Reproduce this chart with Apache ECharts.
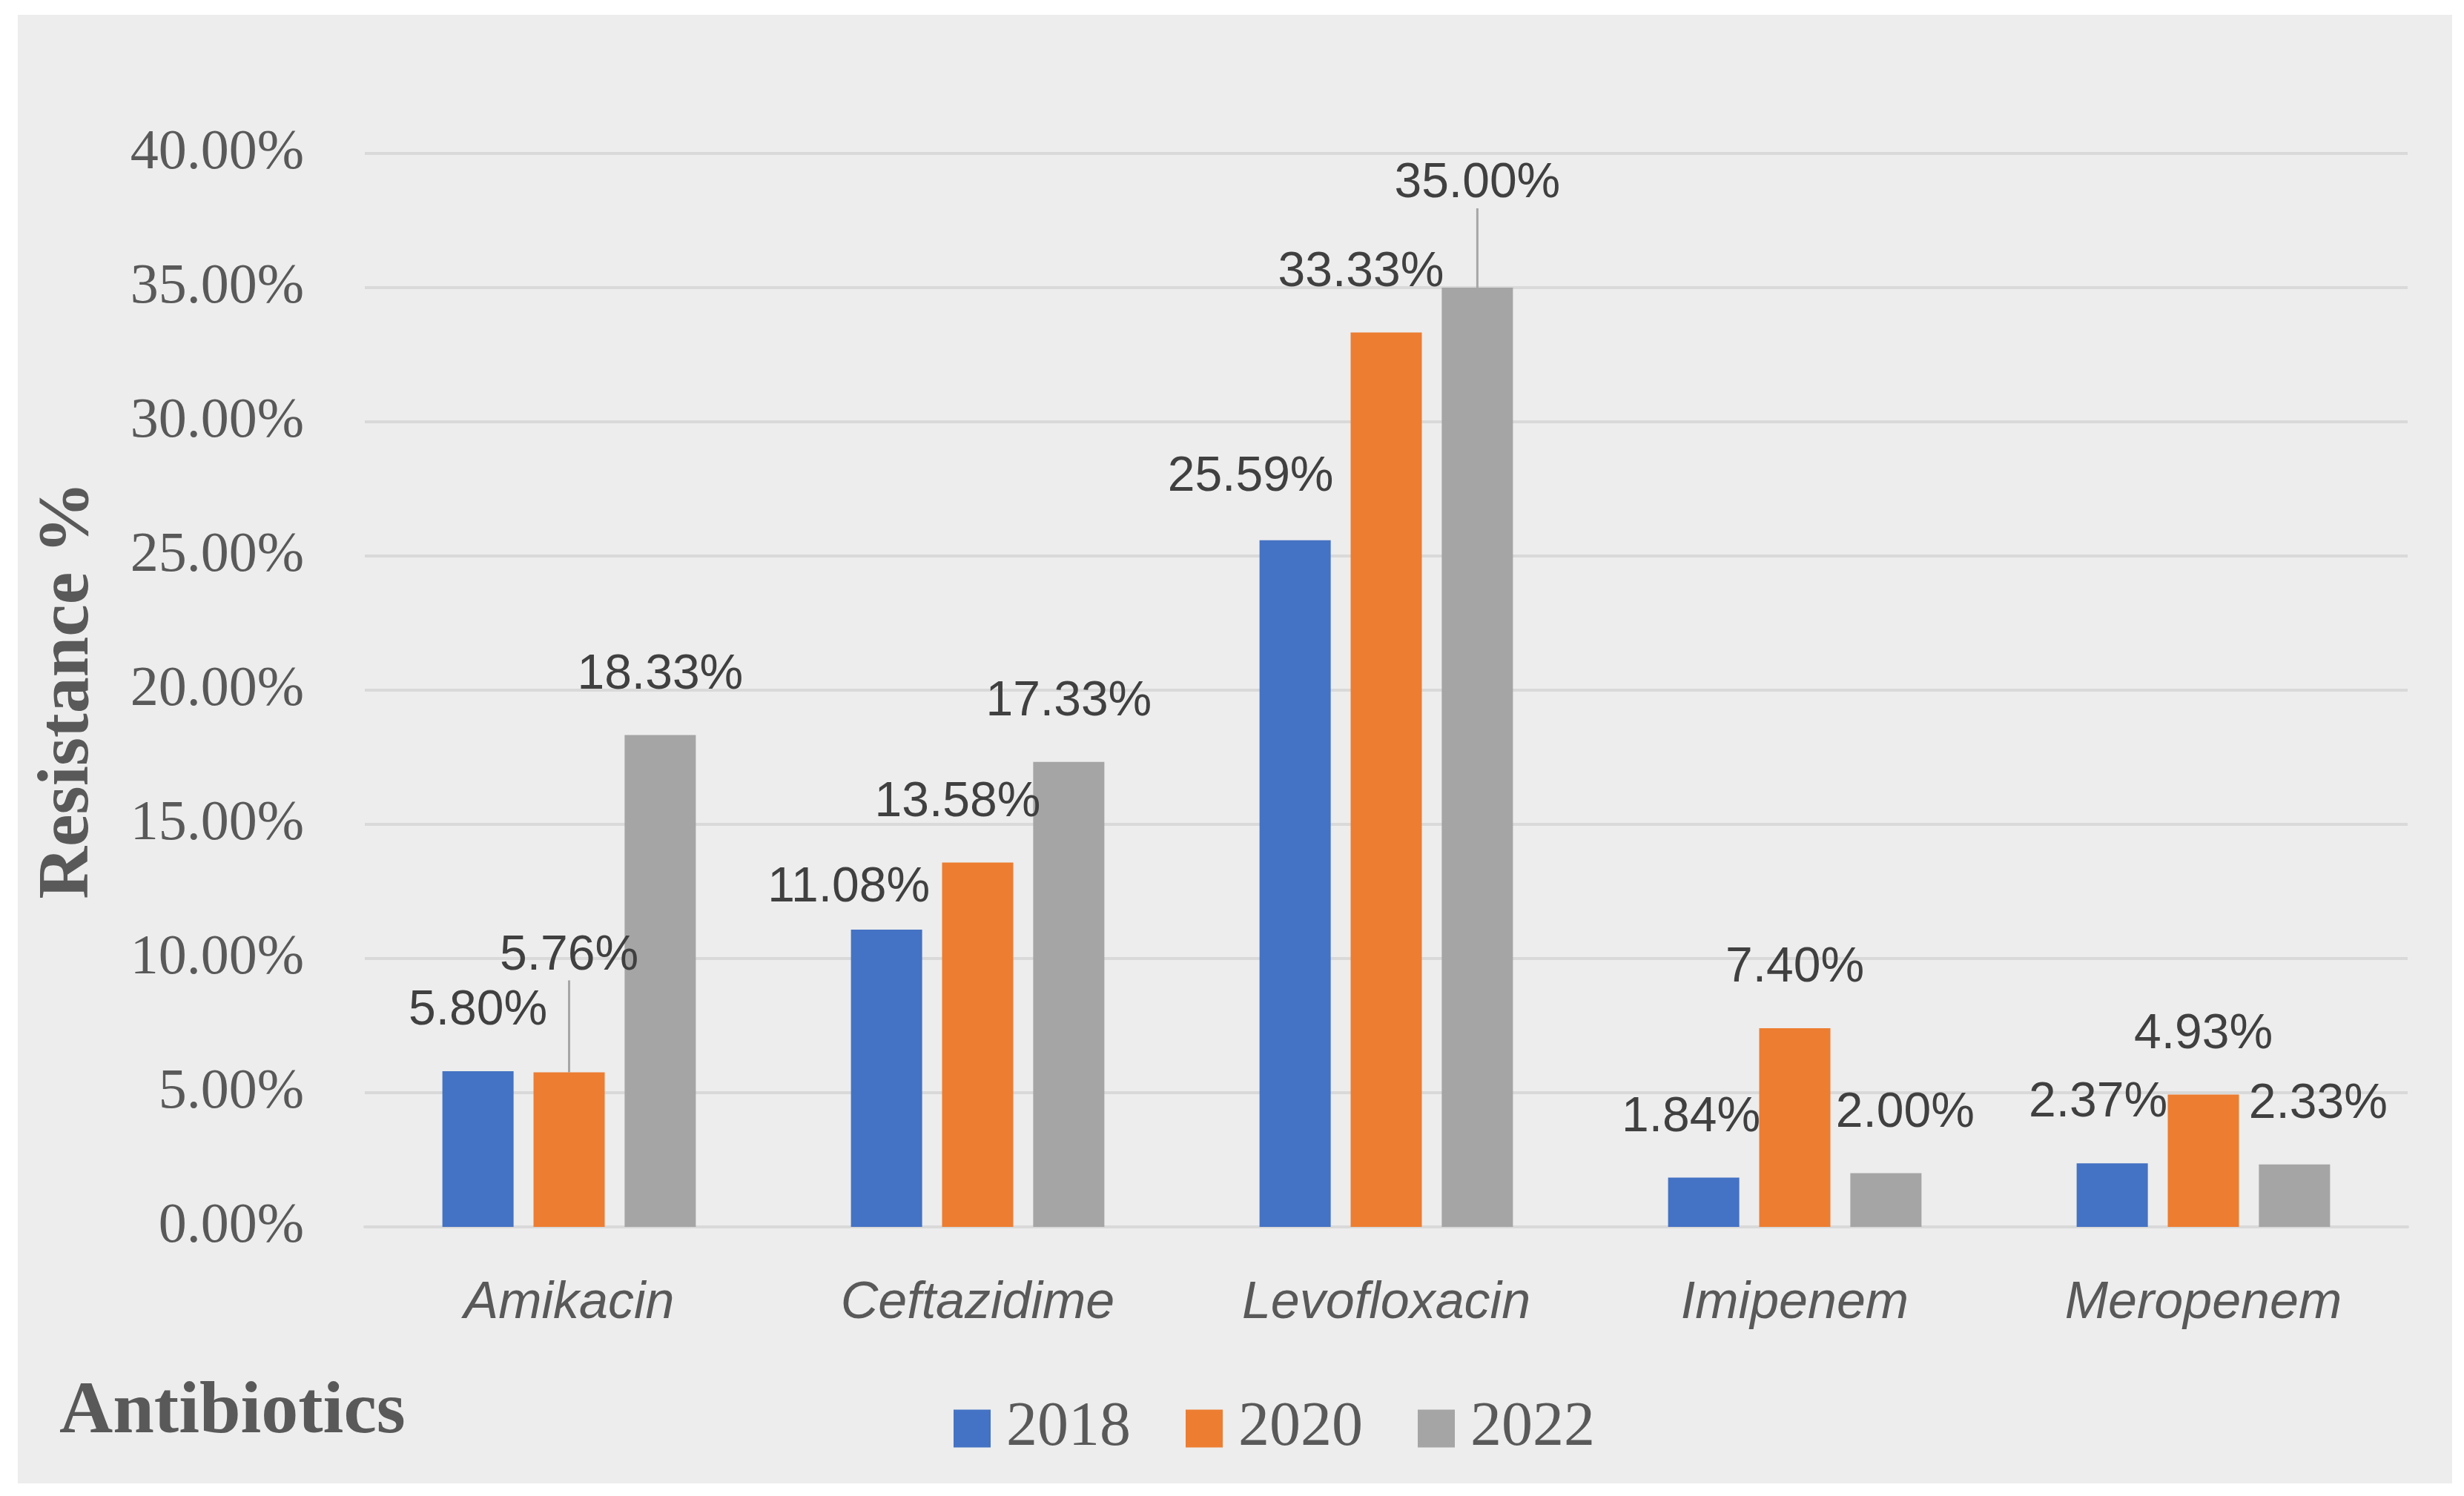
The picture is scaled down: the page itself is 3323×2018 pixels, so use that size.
<!DOCTYPE html>
<html>
<head>
<meta charset="utf-8">
<script src="https://cdn.jsdelivr.net/npm/echarts@6/dist/echarts.min.js"></script>
<style>
html,body{margin:0;padding:0;background:#fff;}
#c{width:3323px;height:2018px;}
</style>
</head>
<body>
<div id="c"></div>
<script>
const categories = ['Amikacin', 'Ceftazidime', 'Levofloxacin', 'Imipenem', 'Meropenem'];
const years = ['2018', '2020', '2022'];
const values2018 = [5.80, 11.08, 25.59, 1.84, 2.37];
const values2020 = [5.76, 13.58, 33.33, 7.40, 4.93];
const values2022 = [18.33, 17.33, 35.00, 2.00, 2.33];
const yTicks = [0, 5, 10, 15, 20, 25, 30, 35, 40];

// label nudges (style only), per series / category: [dx, dy]
const labelNudge = [
  [[0, 0], [-51, 25], [-60, -4], [-17, 0], [-19, 0]],
  [[0, -76], [-27, 0], [-34, 0], [0, 0], [0, 0]],
  [[0, 0], [0, 0], [0, -59], [26, 0], [32, 0]]
];
const leaderLines = [[], [0], [2]];

const colors = ['#4472C4', '#ED7D31', '#A5A5A5'];
const seriesValues = [values2018, values2020, values2022];

const chart = echarts.init(document.getElementById('c'), null, {renderer: 'canvas'});

const series = years.map((y, si) => ({
  name: y,
  type: 'bar',
  barWidth: 96,
  barGap: '28%',
  itemStyle: {color: colors[si]},
  data: seriesValues[si].map((v, di) => {
    const d = {value: v};
    if (leaderLines[si].indexOf(di) >= 0) {
      d.labelLine = {show: true, lineStyle: {color: '#a6a6a6', width: 3}};
    }
    return d;
  }),
  label: {
    show: true,
    position: 'top',
    distance: 48,
    fontFamily: 'Liberation Sans',
    fontSize: 66,
    color: '#404040',
    formatter: p => p.value.toFixed(2) + '%'
  },
  labelLine: {show: false, lineStyle: {color: '#a6a6a6', width: 3}},
  labelLayout: function (p) {
    const n = labelNudge[p.seriesIndex][p.dataIndex];
    return {dx: n[0], dy: n[1]};
  }
}));

chart.setOption({
  backgroundColor: '#ffffff',
  animation: false,
  graphic: [{
    type: 'rect',
    z: -10,
    silent: true,
    shape: {x: 24, y: 20, width: 3283, height: 1981},
    style: {fill: '#ededed'}
  }, {
    type: 'text',
    left: 80,
    top: 1856,
    style: {
      text: 'Antibiotics',
      font: 'bold 100px "Liberation Serif"',
      fill: '#595959'
    }
  }],
  legend: {
    data: years,
    left: 1281,
    top: 1880,
    icon: 'rect',
    itemWidth: 50,
    itemHeight: 51,
    itemGap: 74,
    textStyle: {fontFamily: 'Liberation Serif', fontSize: 84, color: '#595959', padding: [0, 0, 0, 16]}
  },
  grid: {left: 492, right: 76, top: 207, bottom: 363, containLabel: false},
  xAxis: {
    type: 'category',
    data: categories,
    axisLine: {show: true, lineStyle: {color: '#d9d9d9', width: 4}},
    axisTick: {show: false},
    axisLabel: {
      margin: 69,
      fontFamily: 'Liberation Sans',
      fontStyle: 'italic',
      fontSize: 70,
      color: '#595959'
    }
  },
  yAxis: {
    type: 'value',
    min: 0,
    max: 40,
    interval: 5,
    name: 'Resistance %',
    nameLocation: 'middle',
    nameGap: 350,
    nameRotate: 90,
    nameTextStyle: {fontFamily: 'Liberation Serif', fontWeight: 'bold', fontSize: 98, color: '#595959'},
    axisLine: {show: false},
    axisTick: {show: false},
    splitLine: {lineStyle: {color: '#d9d9d9', width: 4}},
    axisLabel: {
      margin: 82,
      fontFamily: 'Liberation Serif',
      fontSize: 76,
      color: '#595959',
      formatter: v => (yTicks.indexOf(v) >= 0 ? v.toFixed(2) + '%' : '')
    }
  },
  series: series
});
</script>
</body>
</html>
